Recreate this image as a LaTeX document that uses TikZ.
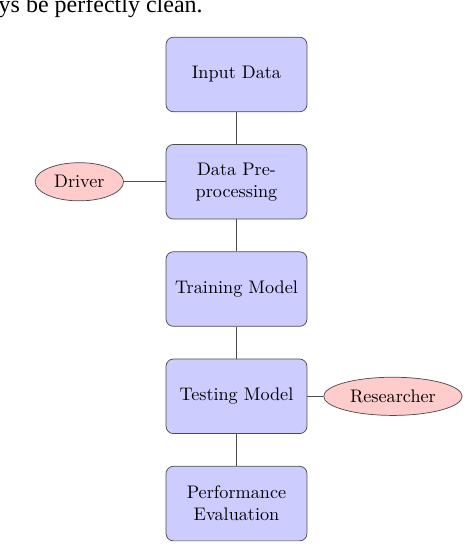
\documentclass[tikz,border=0pt]{standalone}
\usepackage{fontspec}
\newfontfamily\pagefont{Liberation Serif}
\usepackage{tikz}
\usetikzlibrary{positioning}
\usetikzlibrary{shapes.geometric}

\tikzset{
  stage/.style={rectangle, rounded corners=4pt, draw=black!70, fill=blue!20,
    minimum width=77.5pt, minimum height=41pt, align=center},
  actor/.style={ellipse, draw=black!70, fill=red!20, minimum height=21pt},
  link/.style={draw=black!70}
}

\begin{document}
\begin{tikzpicture}[x=0.55pt,y=-0.55pt,node distance=17.6pt]
	\useasboundingbox (0,0) rectangle (474,546);
	\node[anchor=base east, inner sep=0pt, font=\pagefont\fontsize{13.2pt}{15pt}\selectfont] (page) at (203,13) {ays be perfectly clean.};
	\node[stage] (input) at (236.5,74.5) {Input Data};
	\node[stage, below=of input] (pre) {Data Pre-\\processing};
	\node[stage, below=of pre] (train) {Training Model};
	\node[stage, below=of train] (test) {Testing Model};
	\node[stage, below=of test] (eval) {Performance\\Evaluation};
	\node[actor, left=23pt of pre] (driver) {Driver};
	\node[actor, right=8.8pt of test] (res) {Researcher};
	\draw[link] (input) -- (pre);
	\draw[link] (pre) -- (train);
	\draw[link] (train) -- (test);
	\draw[link] (test) -- (eval);
	\draw[link] (driver) -- (pre);
	\draw[link] (test) -- (res);
\end{tikzpicture}
\end{document}
